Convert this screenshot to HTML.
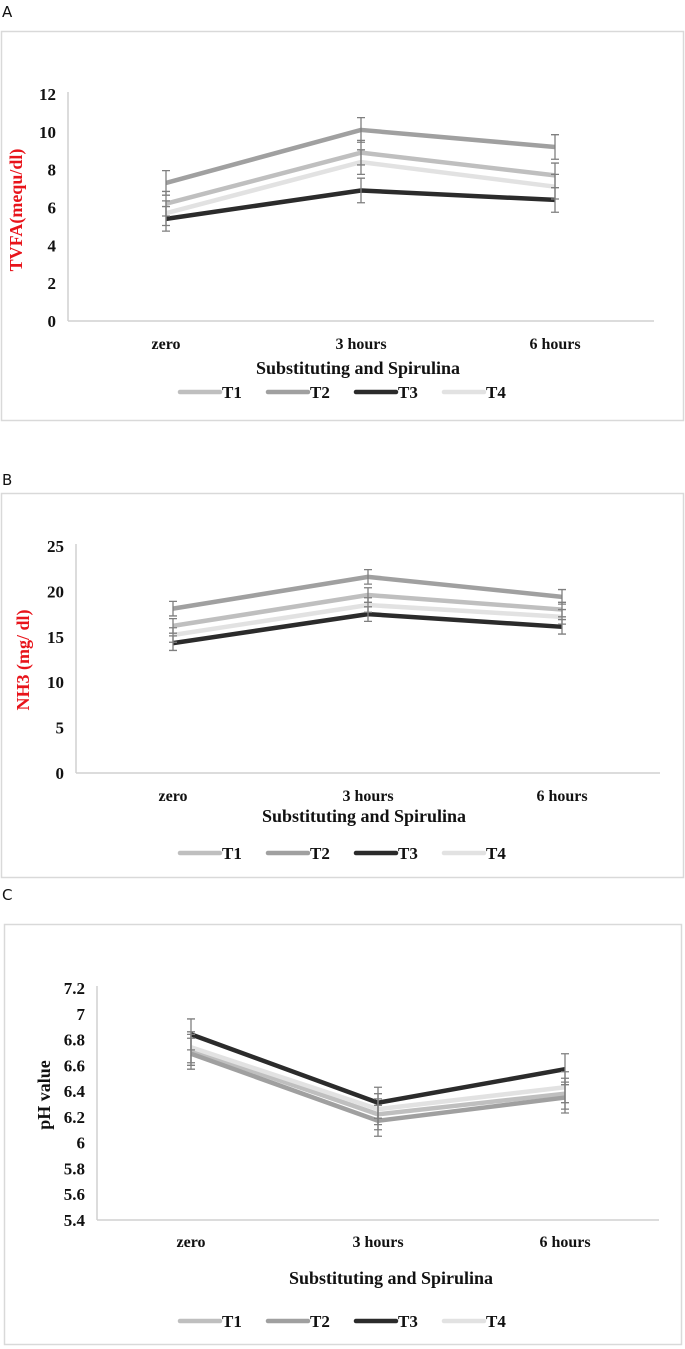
<!DOCTYPE html>
<html><head><meta charset="utf-8"><style>
body{margin:0;background:#fff;width:685px;height:1349px;overflow:hidden;font-family:"Liberation Serif",serif}
svg{position:absolute;left:0;top:0}
</style></head><body>
<svg id="s" width="685" height="1349"></svg>
<script>
const categories=["zero","3 hours","6 hours"];
const seriesNames=["T1","T2","T3","T4"];
const aT1=[6.2,8.9,7.7],aT2=[7.3,10.1,9.2],aT3=[5.4,6.9,6.4],aT4=[5.7,8.4,7.1];
const aErr=[0.65,0.65,0.65];
const aTicks=[0,2,4,6,8,10,12];
const bT1=[16.2,19.6,18.0],bT2=[18.1,21.6,19.4],bT3=[14.3,17.5,16.1],bT4=[15.2,18.5,17.2];
const bErr=[0.8,0.8,0.8];
const bTicks=[0,5,10,15,20,25];
const cT1=[6.72,6.22,6.38],cT2=[6.69,6.17,6.35],cT3=[6.84,6.31,6.57],cT4=[6.74,6.26,6.43];
const cErr=[0.12,0.12,0.12];
const cTicks=[5.4,5.6,5.8,6,6.2,6.4,6.6,6.8,7,7.2];
const colors=["#bfbfbf","#a0a0a0","#2b2b2b","#e2e2e2"];
const NS="http://www.w3.org/2000/svg",S=document.getElementById('s');
function el(t,a,p){const e=document.createElementNS(NS,t);for(const k in a)e.setAttribute(k,a[k]);(p||S).appendChild(e);return e;}
function txt(x,y,s,o,p){const e=el('text',Object.assign({x:x,y:y,'font-size':16,'font-weight':'bold','font-family':'Liberation Serif, serif','text-anchor':'middle',fill:'#111'},o||{}),p);e.textContent=s;return e;}
function chart(cfg){
  const g=el('g',{});
  
  
  const lab=txt(cfg.labelY<0?0:2,cfg.labelY,cfg.letter,{'text-anchor':'start','font-weight':'normal','font-family':'DejaVu Sans, sans-serif','font-size':15},g);
  
  const box=el('rect',{x:cfg.box[0]+0.5,y:cfg.box[1]+0.5,width:cfg.box[2],height:cfg.box[3],fill:'#fff',stroke:'#d9d9d9','stroke-width':1.5},g);
  
  const ymin=cfg.ticks[0],ymax=cfg.ticks[cfg.ticks.length-1];
  const yS=v=>cfg.y0-(v-ymin)/(ymax-ymin)*(cfg.y0-cfg.y1);
  const xS=i=>cfg.cx[i];
  const ax=el('line',{x1:cfg.x0,y1:cfg.y1-2,x2:cfg.x0,y2:cfg.y0,stroke:'#d0d0d0','stroke-width':1.5},g);
  
  const bx=el('line',{x1:cfg.x0,y1:cfg.y0,x2:cfg.xEnd,y2:cfg.y0,stroke:'#d0d0d0','stroke-width':1.5},g);
  
  cfg.ticks.forEach(t=>{const e=txt(cfg.x0-12,yS(t)+6,String(t),{'text-anchor':'end','font-size':17},g);
    });
  categories.forEach((c,i)=>{const e=txt(xS(i),cfg.catY,c,{},g);
    });
  const xt=txt(cfg.titleX,cfg.titleY,'Substituting and Spirulina',{'font-size':18},g);
  
  const yt=txt(0,0,cfg.ytitle,{'font-size':18,fill:cfg.ycol,transform:'translate('+cfg.ytX+','+cfg.ytY+') rotate(-90)'},g);
  
  cfg.series.forEach((vals,si)=>{
    const d=vals.map((v,i)=>(i?'L':'M')+xS(i)+','+yS(v)).join(' ');
    const p=el('path',{d:d,fill:'none',stroke:colors[si],'stroke-width':4.5,'stroke-linejoin':'round'},g);
    
    
  });
  cfg.series.forEach((vals,si)=>{
    vals.forEach((v,i)=>{
      const e=cfg.err[i],x=xS(i),yt=yS(v+e),yb=yS(v-e);
      const eb=el('path',{d:'M'+x+','+yt+' L'+x+','+yb+' M'+(x-4)+','+yt+' L'+(x+4)+','+yt+' M'+(x-4)+','+yb+' L'+(x+4)+','+yb,stroke:'#7f7f7f','stroke-width':1.3,fill:'none'},g);
      
    });
  });
  seriesNames.forEach((n,si)=>{
    const lx=cfg.legX+si*88;
    const lg=el('g',{},g);
    
    
    el('line',{x1:lx,y1:cfg.legY,x2:lx+40,y2:cfg.legY,stroke:colors[si],'stroke-width':4.5,'stroke-linecap':'round'},lg);
    txt(lx+42,cfg.legY+6,n,{'text-anchor':'start','font-size':17},lg);
  });
}
chart({name:'chart-a-tvfa',letter:'A',labelY:17,box:[1,31,682,389],x0:68,y1:94,y0:321,xEnd:654,cx:[166,361,555],
  ticks:aTicks,series:[aT1,aT2,aT3,aT4],err:aErr,catY:349,titleX:358,titleY:374,legX:180,legY:392,
  ytitle:'TVFA(mequ/dl)',ycol:'#e8141b',ytX:22,ytY:210});
chart({name:'chart-b-nh3',letter:'B',labelY:485,box:[1,493,682,384],x0:76,y1:546,y0:773,xEnd:660,cx:[173,368,562],
  ticks:bTicks,series:[bT1,bT2,bT3,bT4],err:bErr,catY:801,titleX:364,titleY:822,legX:180,legY:853,
  ytitle:'NH3 (mg/ dl)',ycol:'#e8141b',ytX:29,ytY:660});
chart({name:'chart-c-ph',letter:'C',labelY:900,box:[4,924,677,420],x0:97,y1:988,y0:1220,xEnd:659,cx:[191,378,565],
  ticks:cTicks,series:[cT1,cT2,cT3,cT4],err:cErr,catY:1247,titleX:391,titleY:1284,legX:180,legY:1321,
  ytitle:'pH value',ycol:'#111',ytX:50,ytY:1095});
</script>
</body></html>
